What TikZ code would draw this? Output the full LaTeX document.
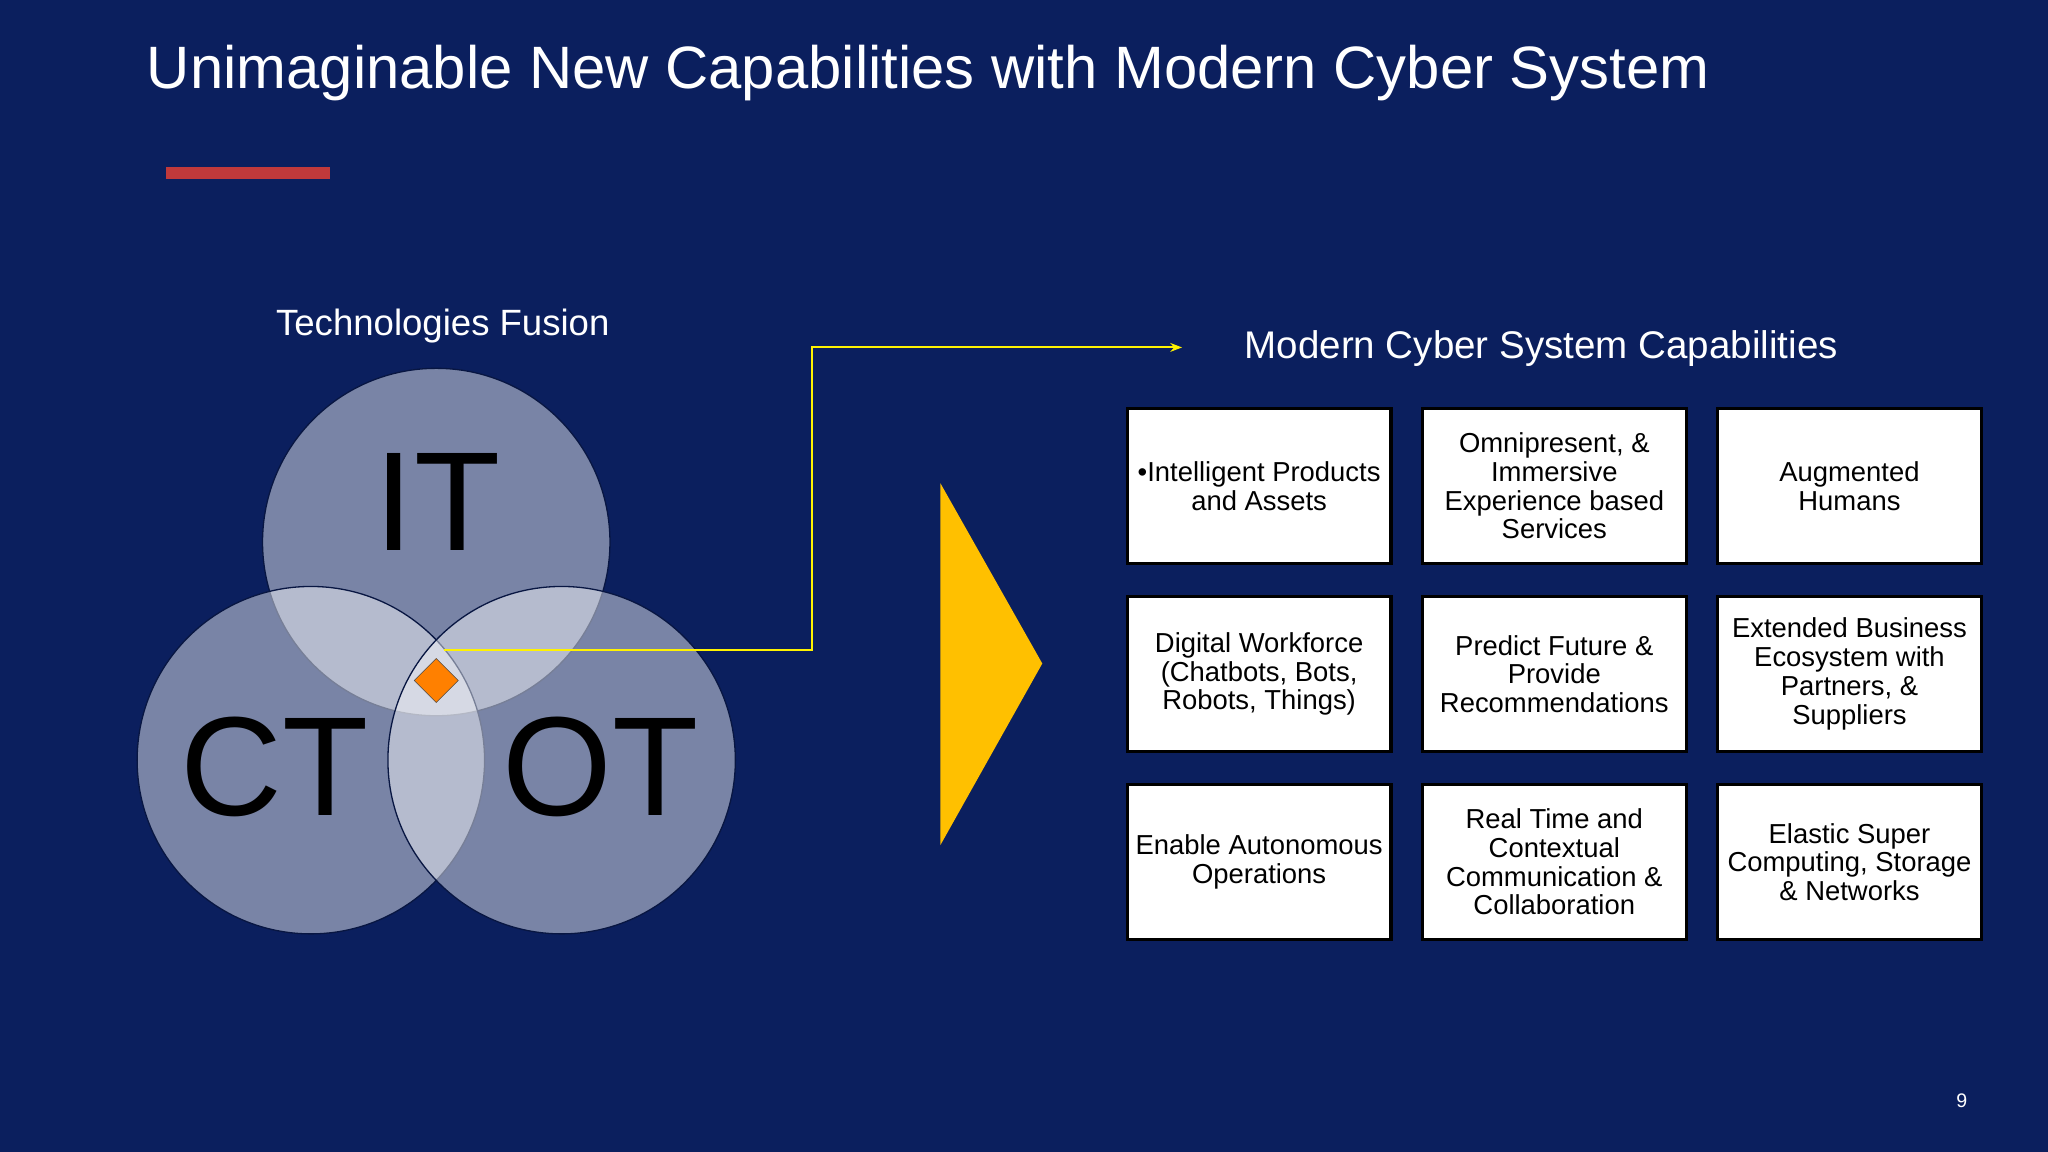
\documentclass[tikz,border=0pt]{standalone}
\usepackage{fontspec}
\setmainfont{Liberation Sans}
\usetikzlibrary{shapes.geometric,arrows.meta}
\definecolor{bg}{HTML}{0B1F5E}
\definecolor{gold}{HTML}{FFC000}
\definecolor{redbar}{HTML}{C0393B}
\begin{document}
\begin{tikzpicture}[x=1pt,y=-1pt,
  circ/.style={circle,minimum size=266pt,inner sep=0pt,fill=white,fill opacity=0.45,draw=bg!70!black,line width=1pt,text opacity=1},
  big/.style={font=\fontsize{108}{108}\selectfont,text=black},
  capbox/.style={draw=black,line width=2.5pt,fill=white,minimum width=202pt,minimum height=119pt,align=center,font=\fontsize{21}{22}\selectfont,inner sep=2pt}]
\useasboundingbox (0,0) rectangle (1568,882);
\fill[bg] (0,0) rectangle (1568,882);
\node[anchor=west,text=white,font=\fontsize{45.8}{50}\selectfont] (title) at (109,56) {Unimaginable New Capabilities with Modern Cyber System};
\fill[redbar] (127,128) rectangle (253,137);
\node[text=white,font=\fontsize{28}{30}\selectfont] (tf) at (339,250) {Technologies Fusion};
\node[circ] (it) at (334,415) {};
\node[circ] (ct) at (238,582) {};
\node[circ] (ot) at (430,582) {};
\node[big] at (335,384) {IT};
\node[big] at (210,587) {CT};
\node[big] at (460,587) {OT};
\node[diamond,fill=orange,draw=black!70,minimum size=34pt,inner sep=0pt] (dia) at (334,521) {};
\coordinate (s) at (340,498);
\coordinate (e) at (905,266);
\draw[yellow,line width=1.5pt,-{Stealth[length=9pt]}] (s) -- (622,498) -- (622,266) -- (e);
\fill[gold] (720,370) -- (798,508) -- (720,647) -- cycle;
\node[text=white,font=\fontsize{29.5}{32}\selectfont] (mc) at (1180,267) {Modern Cyber System Capabilities};
\foreach \n/\x/\y/\t in {
 a/964/372/{•Intelligent Products\\and Assets},
 b/1190/372/{Omnipresent, \&\\Immersive\\Experience based\\Services},
 c/1416/372/{Augmented\\Humans},
 d/964/516/{Digital Workforce\\(Chatbots, Bots,\\Robots, Things)},
 e2/1190/516/{Predict Future \&\\Provide\\Recommendations},
 f/1416/516/{Extended Business\\Ecosystem with\\Partners, \&\\Suppliers},
 g/964/660/{Enable Autonomous\\Operations},
 h/1190/660/{Real Time and\\Contextual\\Communication \&\\Collaboration},
 i/1416/660/{Elastic Super\\Computing, Storage\\\& Networks}}
 {\node[capbox] (\n) at (\x,\y) {\t};}
\node[text=white,font=\fontsize{15}{18}\selectfont] (pg) at (1502,843) {9};
\end{tikzpicture}
\end{document}
